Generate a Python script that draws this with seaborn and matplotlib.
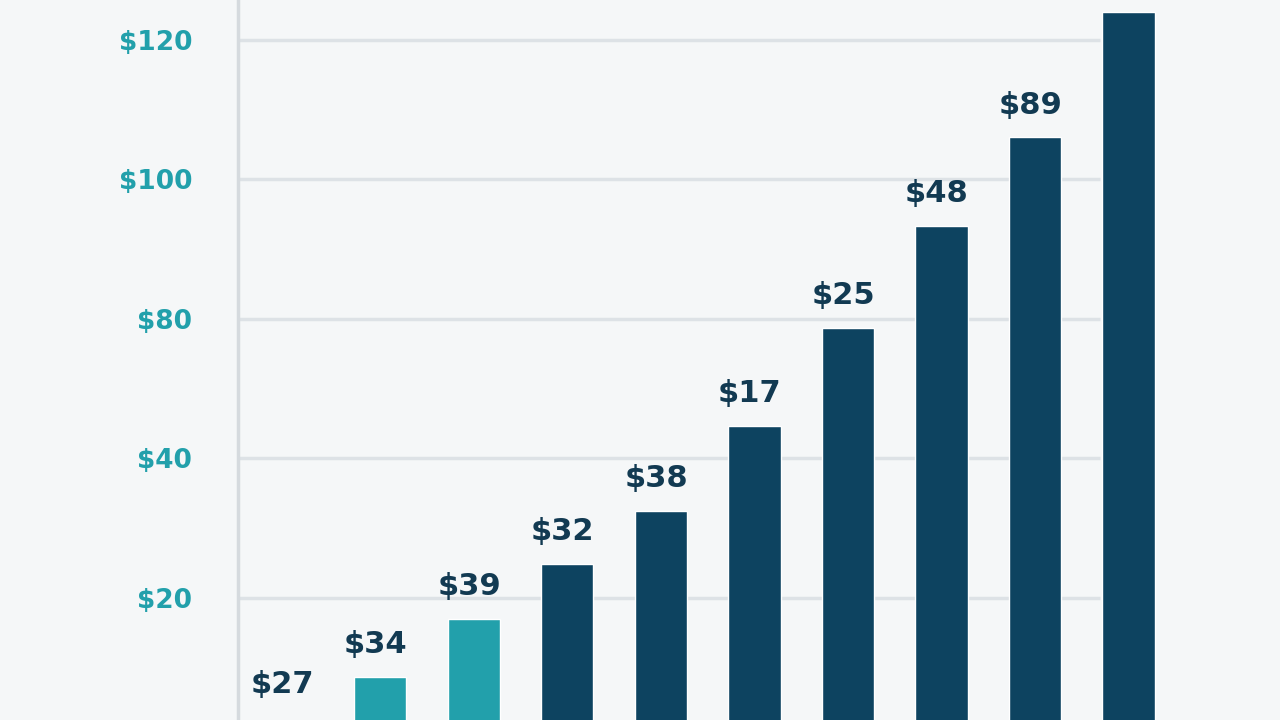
import matplotlib
matplotlib.use("Agg")
import matplotlib.pyplot as plt
import seaborn as sns
import pandas as pd

categories = [f"B{i}" for i in range(1, 11)]
values = [2.0, 8.7, 17.0, 24.9, 32.5, 44.7, 58.7, 73.3, 86.0, 104.0]
bar_labels = ["$27", "$34", "$39", "$32", "$38", "$17", "$25", "$48", "$89", ""]
tick_pos = [20, 40, 60, 80, 100]
tick_labels = ["$20", "$40", "$80", "$100", "$120"]

teal = "#22a0ab"
navy = "#0d4360"
colors = [teal] * 3 + [navy] * 7
bg = "#f5f7f8"

sns.set_style("white")
plt.rcParams['font.family'] = ['DejaVu Sans']
fig = plt.figure(figsize=(12.8, 7.2), dpi=100, facecolor=bg)
ax = fig.add_axes([238/1280, 0, 1 - 238/1280, 1], facecolor=bg)

df = pd.DataFrame({"cat": categories, "val": values})
ax.hlines(tick_pos, -0.52, 8.7, color="#dde2e6", lw=2.5, zorder=0)
sns.barplot(data=df, x="cat", y="val", hue="cat", palette=colors, legend=False,
            width=0.56, saturation=1, ax=ax, zorder=2)

for i, (v, lab) in enumerate(zip(values, bar_labels)):
    ax.text(i - 0.05, max(v, 3.0) + 4.6, lab, ha="center", va="center",
            fontsize=22, fontweight="bold", color="#123a52", zorder=3)

ax.set_xlim(-0.52, 10.62)
ax.set_ylim(2.5, 105.7)
ax.set_yticks(tick_pos)
ax.set_yticklabels(tick_labels, fontsize=19, fontweight="bold", color=teal)
ax.tick_params(axis="y", length=0, pad=33)
ax.set_xticks([])
ax.set_xlabel("")
ax.set_ylabel("")
for s in ["top", "right", "bottom"]:
    ax.spines[s].set_visible(False)
ax.spines["left"].set_color("#d5dade")
ax.spines["left"].set_linewidth(2.5)

fig.savefig("out.png", dpi=100, facecolor=bg)
